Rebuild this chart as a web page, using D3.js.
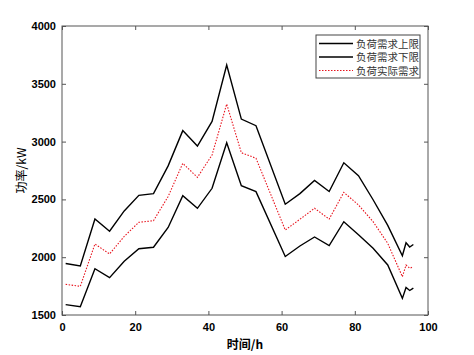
<!DOCTYPE html>
<html>
<head>
<meta charset="utf-8">
<script src="https://cdn.jsdelivr.net/npm/d3@7"></script>
<style>
  body { margin: 0; background: #fff; }
  svg { display: block; }
</style>
</head>
<body>
<div id="chart"></div>
<script>
// time points (h)
const hours = [1, 5, 9, 13, 17, 21, 25, 29, 33, 37, 41, 45, 49, 53, 61, 65, 69, 73, 77, 81, 85, 89, 93, 94, 95, 96];
// load demand upper bound
const upperValues = [1945, 1925, 2330, 2225, 2400, 2535, 2550, 2790, 3095, 2962, 3175, 3663, 3195, 3138, 2458, 2550, 2664, 2568, 2817, 2705, 2497, 2275, 2012, 2125, 2088, 2110];
// load demand lower bound
const lowerValues = [1590, 1572, 1900, 1823, 1965, 2073, 2086, 2257, 2532, 2423, 2596, 2990, 2618, 2567, 2006, 2097, 2175, 2100, 2307, 2194, 2078, 1933, 1644, 1738, 1712, 1733];
// actual load demand
const actualValues = [1765, 1748, 2114, 2028, 2180, 2302, 2316, 2525, 2812, 2691, 2884, 3325, 2904, 2856, 2235, 2328, 2423, 2330, 2561, 2452, 2307, 2120, 1831, 1932, 1904, 1918];

const xTicks = [0, 20, 40, 60, 80, 100];
const yTicks = [1500, 2000, 2500, 3000, 3500, 4000];
const legendLabels = ["负荷需求上限", "负荷需求下限", "负荷实际需求"];

const width = 474, height = 355;
const margin = { top: 26, right: 46, bottom: 40, left: 62 };
const plotW = width - margin.left - margin.right;
const plotH = height - margin.top - margin.bottom;

const svg = d3.select("#chart").append("svg")
    .attr("width", width)
    .attr("height", height);

const g = svg.append("g")
    .attr("transform", `translate(${margin.left},${margin.top})`);

const x = d3.scaleLinear().domain([0, 100]).range([0, plotW]);
const y = d3.scaleLinear().domain([1500, 4000]).range([plotH, 0]);

const axisColor = "#555";
const tickFont = "'Liberation Sans', Arial, sans-serif";

// frame
g.append("rect")
    .attr("width", plotW)
    .attr("height", plotH)
    .attr("fill", "none")
    .attr("stroke", axisColor)
    .attr("stroke-width", 1);

function styleAxis(sel) {
    sel.select(".domain").remove();
    sel.selectAll(".tick line").attr("stroke", axisColor);
    sel.selectAll(".tick text")
        .attr("font-family", tickFont)
        .attr("font-size", 11)
        .attr("font-weight", "bold")
        .attr("fill", "#000");
}

g.append("g")
    .attr("transform", `translate(0,${plotH})`)
    .call(d3.axisBottom(x).tickValues(xTicks).tickSize(-4).tickPadding(8).tickFormat(d3.format("d")))
    .call(styleAxis);

g.append("g")
    .call(d3.axisTop(x).tickValues(xTicks).tickSize(-4).tickFormat(""))
    .call(styleAxis);

g.append("g")
    .call(d3.axisLeft(y).tickValues(yTicks).tickSize(-4).tickPadding(6).tickFormat(d3.format("d")))
    .call(styleAxis);

g.append("g")
    .attr("transform", `translate(${plotW},0)`)
    .call(d3.axisRight(y).tickValues(yTicks).tickSize(-4).tickFormat(""))
    .call(styleAxis);

// lines
const line = d3.line()
    .x((d, i) => x(hours[i]))
    .y(d => y(d));

g.append("path")
    .datum(upperValues)
    .attr("d", line)
    .attr("fill", "none")
    .attr("stroke", "#000")
    .attr("stroke-width", 1.4);

g.append("path")
    .datum(lowerValues)
    .attr("d", line)
    .attr("fill", "none")
    .attr("stroke", "#000")
    .attr("stroke-width", 1.4);

g.append("path")
    .datum(actualValues)
    .attr("d", line)
    .attr("fill", "none")
    .attr("stroke", "#e8141e")
    .attr("stroke-width", 1.1)
    .attr("stroke-dasharray", "1.5,1.5");

// axis labels
svg.append("text")
    .attr("x", margin.left + plotW / 2)
    .attr("y", 349)
    .attr("text-anchor", "middle")
    .attr("font-family", "'Noto Sans CJK SC', sans-serif")
    .attr("font-size", 12)
    .attr("font-weight", "bold")
    .text("时间/h");

svg.append("text")
    .attr("transform", `translate(26,${margin.top + plotH / 2}) rotate(-90)`)
    .attr("text-anchor", "middle")
    .attr("font-family", "'Noto Sans CJK SC', sans-serif")
    .attr("font-size", 12)
    .text("功率/kW");

// legend
const legend = svg.append("g").attr("transform", "translate(316,35)");
legend.append("rect")
    .attr("width", 104)
    .attr("height", 43)
    .attr("fill", "#fff")
    .attr("stroke", "#444")
    .attr("stroke-width", 1);

const legendStyles = [
    { color: "#000", dash: null, w: 1.4 },
    { color: "#000", dash: null, w: 1.4 },
    { color: "#e8141e", dash: "1.5,1.5", w: 1.1 }
];

legendLabels.forEach((label, i) => {
    const ly = 8.5 + i * 13.5;
    legend.append("line")
        .attr("x1", 3).attr("x2", 37)
        .attr("y1", ly).attr("y2", ly)
        .attr("stroke", legendStyles[i].color)
        .attr("stroke-width", legendStyles[i].w)
        .attr("stroke-dasharray", legendStyles[i].dash);
    legend.append("text")
        .attr("x", 40)
        .attr("y", ly + 4)
        .attr("font-family", "'Noto Sans CJK SC', sans-serif")
        .attr("font-size", 10.5)
        .attr("fill", "#333")
        .text(label);
});
</script>
</body>
</html>
